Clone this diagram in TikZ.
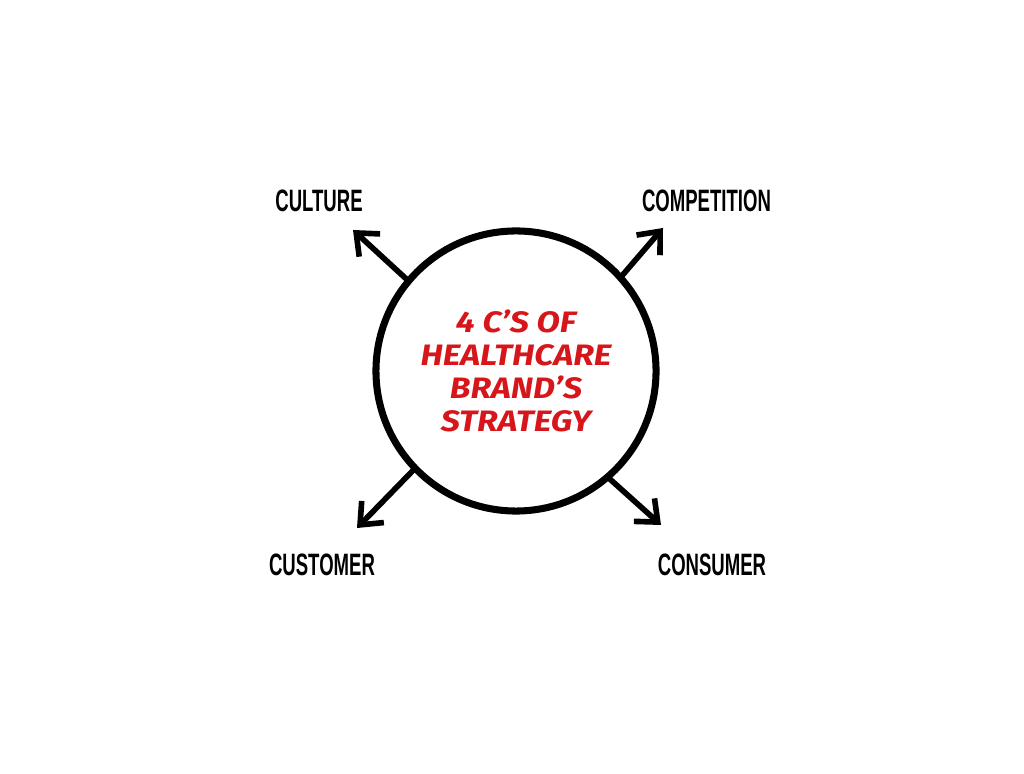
\documentclass[tikz,border=0pt]{standalone}
\usepackage{fontspec}
\usepackage{tikz}
\usetikzlibrary{arrows.meta}
\newfontfamily\capsfont{Liberation Sans}[FakeStretch=0.6]
\newfontfamily\hubfont{Fira Sans}[FakeStretch=1.15]
\definecolor{hubred}{RGB}{214,22,26}
\tikzset{
  corner/.style={font=\capsfont\bfseries\fontsize{22}{26}\selectfont, inner sep=0pt},
  spoke/.style={line width=4pt, line cap=round, line join=round,
    -{Straight Barb[length=13pt,width=22pt]}},
}

\begin{document}
\begin{tikzpicture}[x=0.025cm,y=0.025cm]
    \useasboundingbox (0,0) rectangle (1024,774);
    \node[circle, draw, line width=5pt, minimum size=7cm, inner sep=0pt,
      text=hubred, align=center,
      font=\hubfont\bfseries\itshape\fontsize{21}{23.6}\selectfont]
      (hub) at (516,403) {4 C’S OF\\HEALTHCARE\\BRAND’S\\STRATEGY};
    \node[corner] (culture) at (319,573.5) {CULTURE};
    \node[corner] (competition) at (706.5,573.5) {COMPETITION};
    \node[corner] (customer) at (322,209.5) {CUSTOMER};
    \node[corner] (consumer) at (712,209.5) {CONSUMER};
    \coordinate (tipUL) at (353,544);
    \coordinate (tipUR) at (663,546);
    \coordinate (tipLL) at (357,246);
    \coordinate (tipLR) at (661,249);
    \draw[spoke] (hub.140) -- (tipUL);
    \draw[spoke] (hub.42) -- (tipUR);
    \draw[spoke] (hub.224) -- (tipLL);
    \draw[spoke] (hub.311) -- (tipLR);
\end{tikzpicture}
\end{document}
